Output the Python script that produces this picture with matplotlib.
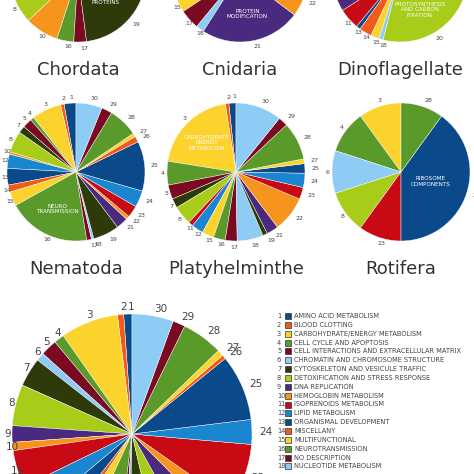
import numpy as np
import matplotlib.pyplot as plt
from matplotlib.patches import Rectangle

# === Farben (Zyklus von 12) ===
base = ['#0b4a8a', '#f25a1a', '#fcd22c', '#5a9a2a', '#7a0a22', '#8ecbf5',
        '#2e3a0a', '#a8cc1a', '#4a2a7e', '#f7941d', '#c80a14', '#1a86d0']
colors = {k: base[(k - 1) % 12] for k in range(1, 31)}

legend_names = ['AMINO ACID METABOLISM', 'BLOOD CLOTTING', 'CARBOHYDRATE/ENERGY METABOLISM',
                'CELL CYCLE AND APOPTOSIS', 'CELL INTERACTIONS AND EXTRACELLULAR MATRIX',
                'CHROMATIN AND CHROMOSOME STRUCTURE', 'CYTOSKELETON AND VESICULE TRAFFIC',
                'DETOXIFICATION AND STRESS RESPONSE', 'DNA REPLICATION', 'HEMOGLOBIN METABOLISM',
                'ISOPRENOIDS METABOLISM', 'LIPID METABOLISM', 'ORGANISMAL DEVELOPMENT',
                'MISCELLANY', 'MULTIFUNCTIONAL', 'NEUROTRANSMISSION', 'NO DESCRIPTION',
                'NUCLEOTIDE METABOLISM']

# === Daten: Kategorie -> Anteil ===
chordata = {1: 3, 3: 10, 4: 4, 5: 4, 6: 3, 7: 5, 8: 8, 10: 8, 16: 4, 17: 3,
            19: 22, 21: 5, 25: 10, 28: 5, 30: 6}
cnidaria = {1: 4, 3: 6, 4: 3, 5: 3, 7: 5, 8: 4, 11: 3, 13: 2, 14: 2, 15: 4, 17: 5, 18: 2,
            21: 25, 22: 8, 23: 4, 25: 8, 28: 6, 30: 11}
dinoflagellate = {1: 3, 3: 5, 4: 4, 5: 3, 6: 3, 7: 4, 8: 4, 9: 8, 11: 5, 13: 1, 14: 3, 15: 2,
                  18: 1, 20: 24, 22: 6, 25: 10, 28: 8, 30: 6}
nematoda = {1: 10, 2: 3, 3: 25, 4: 3, 5: 8, 7: 6, 8: 18, 10: 2, 12: 12, 13: 14, 14: 6, 15: 12,
            16: 70, 17: 4, 18: 2, 19: 22, 21: 10, 22: 3, 23: 10, 24: 14, 25: 42, 26: 5, 27: 3,
            28: 25, 29: 9, 30: 22}
platyhelminthe = {1: 6, 2: 3, 3: 72, 4: 20, 5: 12, 7: 8, 8: 16, 11: 4, 12: 10, 15: 10, 16: 10,
                  17: 10, 18: 22, 19: 4, 21: 10, 22: 30, 23: 10, 24: 12, 25: 8, 27: 4, 28: 32,
                  29: 8, 30: 39}
rotifera = {3: 10, 4: 10, 6: 10, 8: 10, 23: 10, 25: 40, 28: 10}
total = {1: 4, 2: 3, 3: 28, 4: 5, 5: 8, 6: 4, 7: 14, 8: 20, 9: 8, 10: 4, 11: 18, 12: 14, 13: 12,
         14: 4, 15: 9, 16: 18, 17: 3, 18: 3, 19: 14, 20: 16, 21: 16, 22: 10, 23: 30, 24: 12,
         25: 32, 26: 2, 27: 3, 28: 20, 29: 6, 30: 20}

H = 474
fig = plt.figure(figsize=(4.74, 4.74), dpi=100)
ax = fig.add_axes([0, 0, 1, 1])


def draw_pie(data, cx, cy, r, fs, inner=None, name=None, ld=1.09):
    keys = list(data.keys())
    vals = list(data.values())
    wedges, texts = ax.pie(vals, colors=[colors[k] for k in keys], labels=[str(k) for k in keys],
                           startangle=90, counterclock=True, center=(cx, H - cy), radius=r,
                           labeldistance=ld, frame=True,
                           wedgeprops=dict(linewidth=0.3, edgecolor='white'),
                           textprops=dict(fontsize=fs, color='#444444'))
    if inner:
        k, txt, d = inner
        w = wedges[keys.index(k)]
        th = np.deg2rad((w.theta1 + w.theta2) / 2)
        ax.text(cx + d * r * np.cos(th), H - cy + d * r * np.sin(th), txt, color='white',
                fontsize=fs * 0.9, ha='center', va='center', linespacing=1.1)
    if name:
        ax.text(cx, H - cy - r - 28, name, fontsize=13, color='#333333', ha='center', va='center')


draw_pie(chordata, 78, -26, 68, 4.5, (19, 'SPECIFIC\nPROTEINS', 0.55), 'Chordata')
draw_pie(cnidaria, 240, -26, 68, 4.5, (21, 'PROTEIN\nMODIFICATION', 0.6), 'Cnidaria')
draw_pie(dinoflagellate, 400, -26, 68, 4.5, (20, 'PHOTOSYNTHESIS\nAND CARBON\nFIXATION', 0.6),
         'Dinoflagellate')
draw_pie(nematoda, 76, 172, 69, 4.5, (16, 'NEURO\nTRANSMISSION', 0.6), 'Nematoda')
draw_pie(platyhelminthe, 236, 172, 69, 4.5, (3, 'CARBOHYDRATE\nENERGY\nMETABOLISM', 0.6),
         'Platyhelminthe')
draw_pie(rotifera, 401, 172, 69, 4.5, (25, 'RIBOSOME\nCOMPONENTS', 0.45), 'Rotifera')
draw_pie(total, 132, 434, 120, 7.5, ld=1.06)

# === Legende ===
for i, name in enumerate(legend_names):
    y = H - (316 + i * 8.85)
    ax.text(277, y, str(i + 1), fontsize=4.8, color='#444444', ha='left', va='center')
    ax.add_patch(Rectangle((285, y - 3), 6, 6, facecolor=colors[i + 1], edgecolor='#333333',
                           linewidth=0.5))
    ax.text(294, y, name, fontsize=4.8, color='#444444', ha='left', va='center')

ax.set_xlim(0, 474)
ax.set_ylim(0, 474)
ax.set_aspect('auto')
ax.axis('off')
fig.savefig('out.png', dpi=100)
